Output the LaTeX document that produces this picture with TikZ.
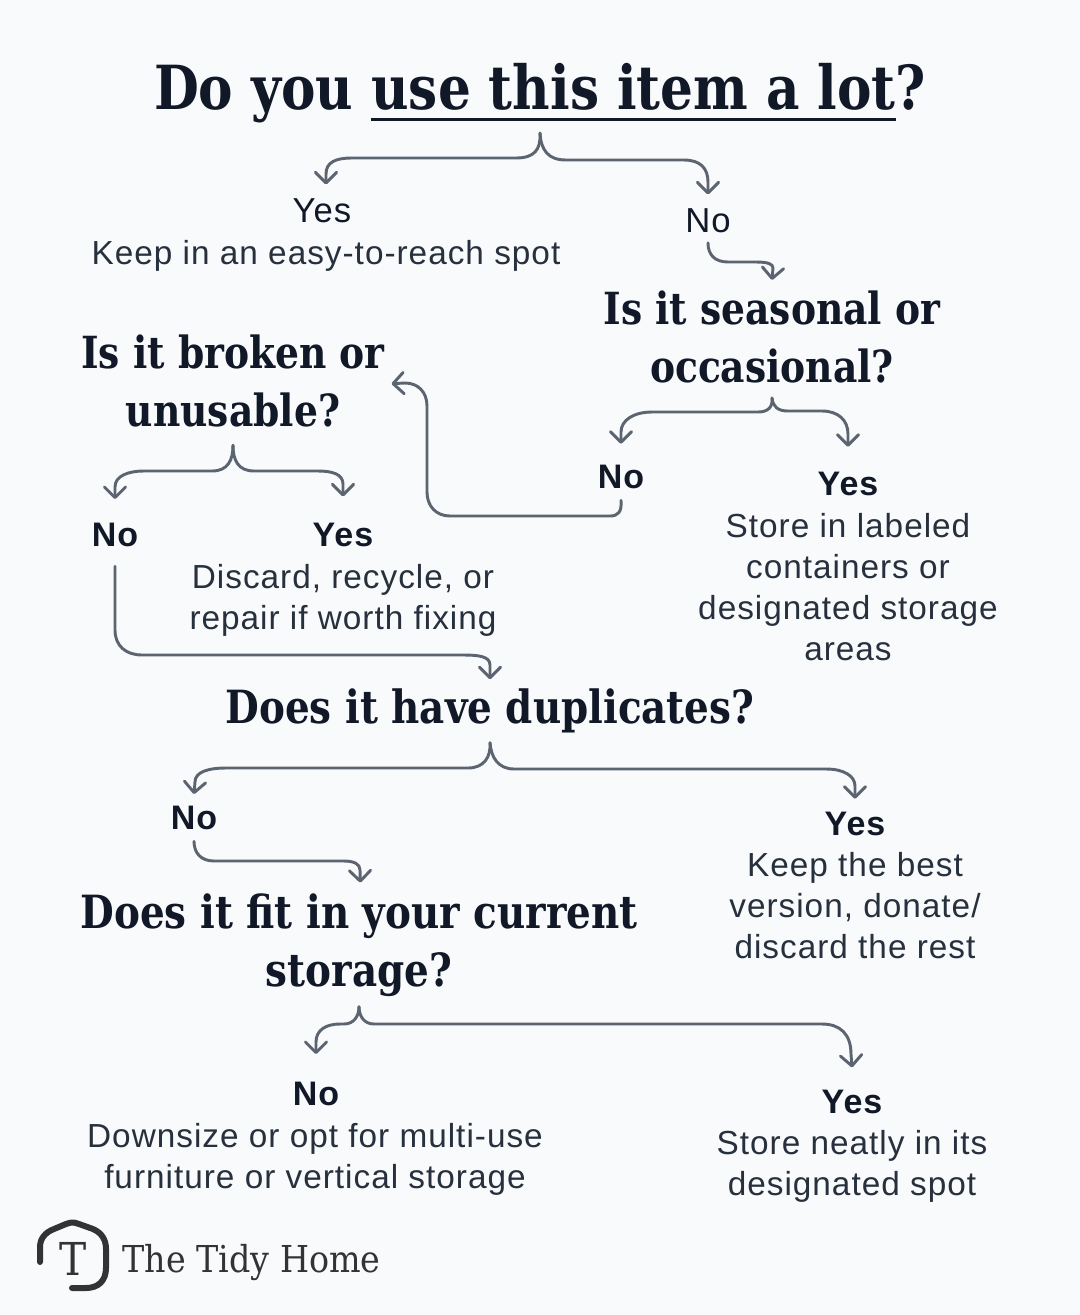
\documentclass[tikz,border=0pt]{standalone}
\usepackage{fontspec}
\setmainfont{Liberation Sans}[LetterSpace=3]
\newfontfamily\headfont{DejaVu Serif}[FakeStretch=0.85]
\newfontfamily\logofont{DejaVu Serif}[FakeStretch=0.9]
\usetikzlibrary{arrows.meta}
\definecolor{bgcol}{HTML}{F9FAFC}
\definecolor{inkcol}{HTML}{111827}
\definecolor{bodycol}{HTML}{27303D}
\definecolor{linkcol}{HTML}{5B6470}
\definecolor{logocol}{HTML}{333333}
\newsavebox{\ulinebox}
\newcommand{\ulinetext}[1]{\sbox{\ulinebox}{#1}\rlap{\rule[-9pt]{\wd\ulinebox}{2.6pt}}\usebox{\ulinebox}}
\tikzset{
  >={Straight Barb[round,length=8pt,width=16pt]},
  link/.style={->,color=linkcol,line width=2.2pt,line cap=round},
  heading/.style={inner sep=0pt,align=center,text=inkcol,font=\headfont\bfseries\fontsize{34.3}{43.5}\selectfont},
  headingsmall/.style={heading,font=\headfont\bfseries\fontsize{33.2}{43.5}\selectfont},
  answer/.style={inner sep=0pt,anchor=base,text=inkcol,font=\bfseries\fontsize{25.5}{30}\selectfont,text height=18pt,text depth=0pt},
  answerlight/.style={inner sep=0pt,anchor=base,text=inkcol,font=\fontsize{26}{30}\selectfont,text height=18pt,text depth=0pt},
  advice/.style={inner sep=0pt,align=center,text=bodycol,font=\fontsize{25}{30.75}\selectfont}
}
\begin{document}
\begin{tikzpicture}[x=0.75pt,y=-0.75pt]
    \fill[bgcol] (0,0) rectangle (1080,1315);

    % Title
    \node[heading,font=\headfont\bfseries\fontsize{45.6}{50}\selectfont] (title) at (540,93) {Do you \ulinetext{use this item a lot}?};
    \node[answerlight] (yes1) at (322,222) {Yes};
    \node[advice] (adv1) at (326,256) {Keep in an easy-to-reach spot};
    \node[answerlight] (no1) at (708,232) {No};
    \draw[link] ([yshift=-7.5pt]title.south) .. controls (541,150) and (534,158) .. (516,158) -- (352,158) .. controls (336,158) and (326,162) .. (326,174) -- ([xshift=3pt,yshift=10pt]yes1.north);
    \draw[link] ([yshift=-7.5pt]title.south) .. controls (541,150) and (548,160) .. (566,160) -- (684,160) .. controls (700,160) and (708,168) .. (708,182) -- ([yshift=10pt]no1.north);

    % Seasonal stage
    \node[headingsmall] (seasonal) at (772,337) {Is it seasonal or\\occasional?};
    \node[answer] (no2) at (621,488) {No};
    \node[answer] (yes2) at (848,495) {Yes};
    \node[advice] (adv2) at (848,587) {Store in labeled\\containers or\\designated storage\\areas};
    \draw[link] ([yshift=-8pt]no1.south) .. controls (708,255) and (715,262) .. (728,262) -- (756,262) .. controls (768,262) and (773,264) .. (773,268) -- ([yshift=8pt]seasonal.north);
    \draw[link] ([yshift=-11pt]seasonal.south) .. controls (773,407) and (768,412) .. (758,412) -- (652,412) .. controls (634,412) and (621,420) .. (621,432) -- ([yshift=15pt]no2.north);
    \draw[link] ([yshift=-11pt]seasonal.south) .. controls (773,407) and (778,411) .. (788,411) -- (822,411) .. controls (838,411) and (848,420) .. (848,434) -- ([yshift=18pt]yes2.north);

    % Broken stage
    \node[headingsmall] (broken) at (233,381) {Is it broken or\\unusable?};
    \node[answer] (no3) at (115,546) {No};
    \node[answer] (yes3) at (343,546) {Yes};
    \node[advice] (adv3) at (343,600) {Discard, recycle, or\\repair if worth fixing};
    \draw[link] ([yshift=-9pt]no2.south) .. controls (622,512) and (618,516) .. (610,516) -- (450,516) .. controls (436,516) and (427,506) .. (427,492) -- (427,406) .. controls (427,392) and (418,383) .. (405,383) -- ([xshift=5pt,yshift=-2pt]broken.east);
    \draw[link] ([yshift=-13.5pt]broken.south) .. controls (233,460) and (228,471) .. (212,471) -- (144,471) .. controls (128,471) and (115,476) .. (115,487) -- ([yshift=17pt]no3.north);
    \draw[link] ([yshift=-13.5pt]broken.south) .. controls (233,460) and (238,471) .. (254,471) -- (318,471) .. controls (332,471) and (343,474) .. (343,484) -- ([yshift=19pt]yes3.north);

    % Duplicates stage
    \node[heading] (dupes) at (490,711) {Does it have duplicates?};
    \node[answer] (no4) at (194,829) {No};
    \node[answer] (yes4) at (855,835) {Yes};
    \node[advice] (adv4) at (855,906) {Keep the best\\version, donate/\\discard the rest};
    \draw[link] ([yshift=-15pt]no3.south) -- (115,630) .. controls (115,646) and (126,655) .. (142,655) -- (462,655) .. controls (478,655) and (490,656) .. (490,665) -- ([yshift=7pt]dupes.north);
    \draw[link] ([yshift=-7pt]dupes.south) .. controls (491,757) and (484,768) .. (468,768) -- (226,768) .. controls (208,768) and (195,772) .. (195,782) -- ([yshift=8pt]no4.north);
    \draw[link] ([yshift=-7pt]dupes.south) .. controls (491,757) and (498,769) .. (514,769) -- (826,769) .. controls (844,769) and (855,776) .. (855,786) -- ([yshift=9pt]yes4.north);

    % Storage stage
    \node[heading] (fit) at (359,945) {Does it fit in your current\\storage?};
    \node[answer] (no5) at (316,1105) {No};
    \node[answer] (yes5) at (852,1113) {Yes};
    \node[advice] (adv5) at (315,1159) {Downsize or opt for multi-use\\furniture or vertical storage};
    \node[advice] (adv6) at (852,1166) {Store neatly in its\\designated spot};
    \draw[link] ([yshift=-9pt]no4.south) .. controls (194,853) and (201,861) .. (214,861) -- (344,861) .. controls (354,861) and (360,864) .. (360,870) -- ([xshift=1pt,yshift=8pt]fit.north);
    \draw[link] ([yshift=-7.5pt]fit.south) .. controls (359,1016) and (354,1024) .. (344,1024) -- (340,1024) .. controls (326,1024) and (316,1030) .. (316,1042) -- ([yshift=20pt]no5.north);
    \draw[link] ([yshift=-7.5pt]fit.south) .. controls (359,1016) and (364,1024) .. (374,1024) -- (822,1024) .. controls (840,1024) and (851,1034) .. (851,1054) -- ([yshift=16pt]yes5.north);

    % Logo
    \draw[logocol,line width=4.5pt,line cap=round,line join=round] (40,1262) -- (40,1247) .. controls (40,1238) and (46,1232) .. (54,1229) -- (66,1224) .. controls (71,1222) and (74,1222) .. (79,1224) -- (93,1229) .. controls (102,1233) and (106,1240) .. (106,1249) -- (106,1268) .. controls (106,1281) and (98,1288) .. (86,1288) -- (72,1288);
    \node[inner sep=0pt,text=logocol,font=\logofont\fontsize{34}{36}\selectfont] (logomark) at (73,1259) {T};
    \node[inner sep=0pt,anchor=base west,text=logocol,font=\logofont\fontsize{27.8}{30}\selectfont] (logotext) at (122,1272) {The Tidy Home};
\end{tikzpicture}
\end{document}
